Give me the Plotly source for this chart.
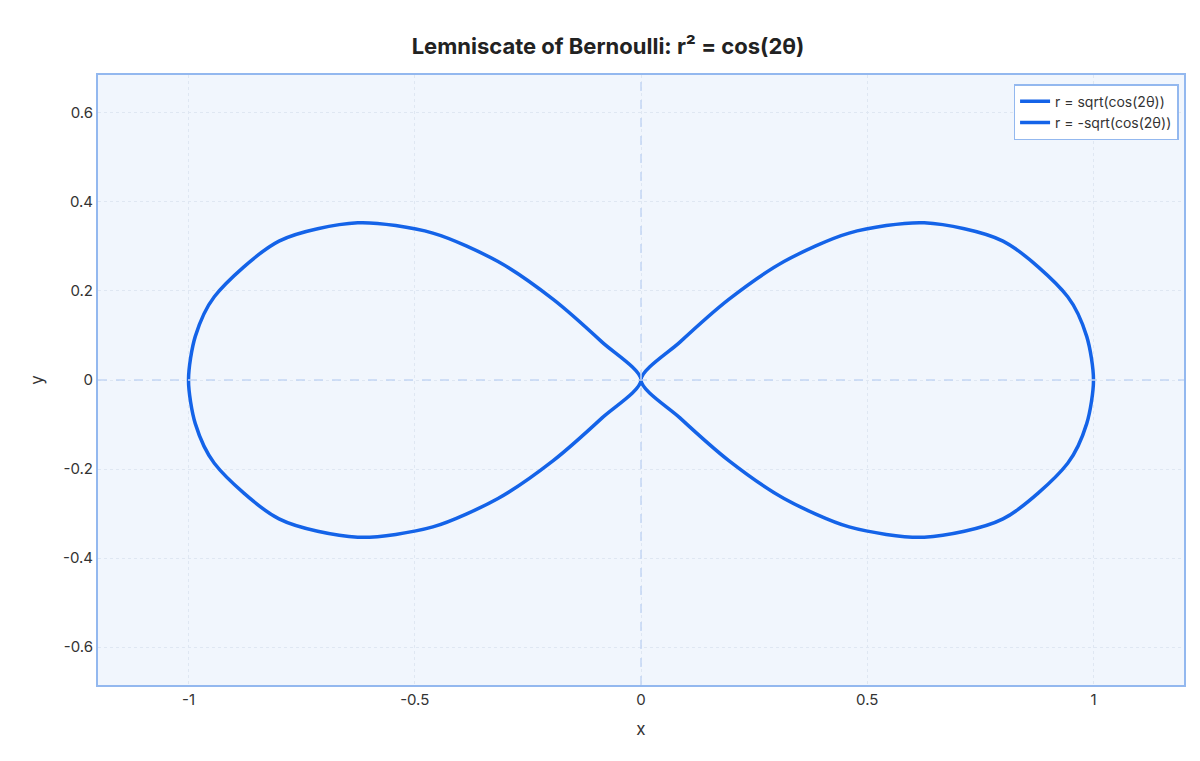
import plotly.graph_objects as go

# points of the upper-right quarter of the lemniscate (origin -> tip)
qx = [0.0, 0.086, 0.194, 0.316, 0.46, 0.626, 0.80, 0.943, 0.985, 1.0]
qy = [0.0, 0.085, 0.181, 0.266, 0.33, 0.353, 0.312, 0.187, 0.098, 0.0]

# right lobe (r > 0): origin -> tip along the top, tip -> origin along the bottom
right_x = qx + qx[::-1][1:]
right_y = qy + [-v for v in qy[::-1][1:]]
# left lobe (r < 0): point reflection of the right lobe
left_x = [-v for v in right_x]
left_y = [-v for v in right_y]

blue = "#1463e8"
fig = go.Figure()
fig.add_trace(go.Scatter(x=right_x, y=right_y, mode="lines", name="r = sqrt(cos(2θ))",
                         line=dict(color=blue, width=3.5, shape="spline", smoothing=0.8)))
fig.add_trace(go.Scatter(x=left_x, y=left_y, mode="lines", name="r = -sqrt(cos(2θ))",
                         line=dict(color=blue, width=3.5, shape="spline", smoothing=0.8)))

fig.add_hline(y=0, line=dict(color="#c3d6f3", width=1.5, dash="dash"))
fig.add_vline(x=0, line=dict(color="#c3d6f3", width=1.5, dash="dash"))

axis = dict(showgrid=True, gridcolor="#dfe7f2", griddash="dot", zeroline=False,
            showline=True, mirror=True, linecolor="#93b8ef", linewidth=2,
            ticks="", tickfont=dict(size=15, color="#333"), title_font=dict(size=17, color="#333"))

fig.update_layout(
    width=1200, height=761,
    font=dict(family="Inter, Lato, sans-serif"),
    title=dict(text="<b>Lemniscate of Bernoulli: r² = cos(2θ)</b>", x=0.5, y=0.96,
               font=dict(size=22, color="#222")),
    paper_bgcolor="white", plot_bgcolor="#f1f6fd",
    margin=dict(l=90, r=24, t=67, b=84),
    xaxis=dict(axis, range=[-1.2, 1.2], title_text="x",
               tickvals=[-1, -0.5, 0, 0.5, 1], ticktext=["-1", "-0.5", "0", "0.5", "1"]),
    yaxis=dict(axis, range=[-0.685, 0.685], title_text="y",
               tickvals=[-0.6, -0.4, -0.2, 0, 0.2, 0.4, 0.6],
               ticktext=["-0.6", "-0.4", "-0.2", "0", "0.2", "0.4", "0.6"]),
    legend=dict(x=0.995, y=0.985, xanchor="right", yanchor="top",
                bgcolor="white", bordercolor="#93b8ef", borderwidth=1.5,
                font=dict(size=14, color="#333")),
)

fig.write_html("out.html")
